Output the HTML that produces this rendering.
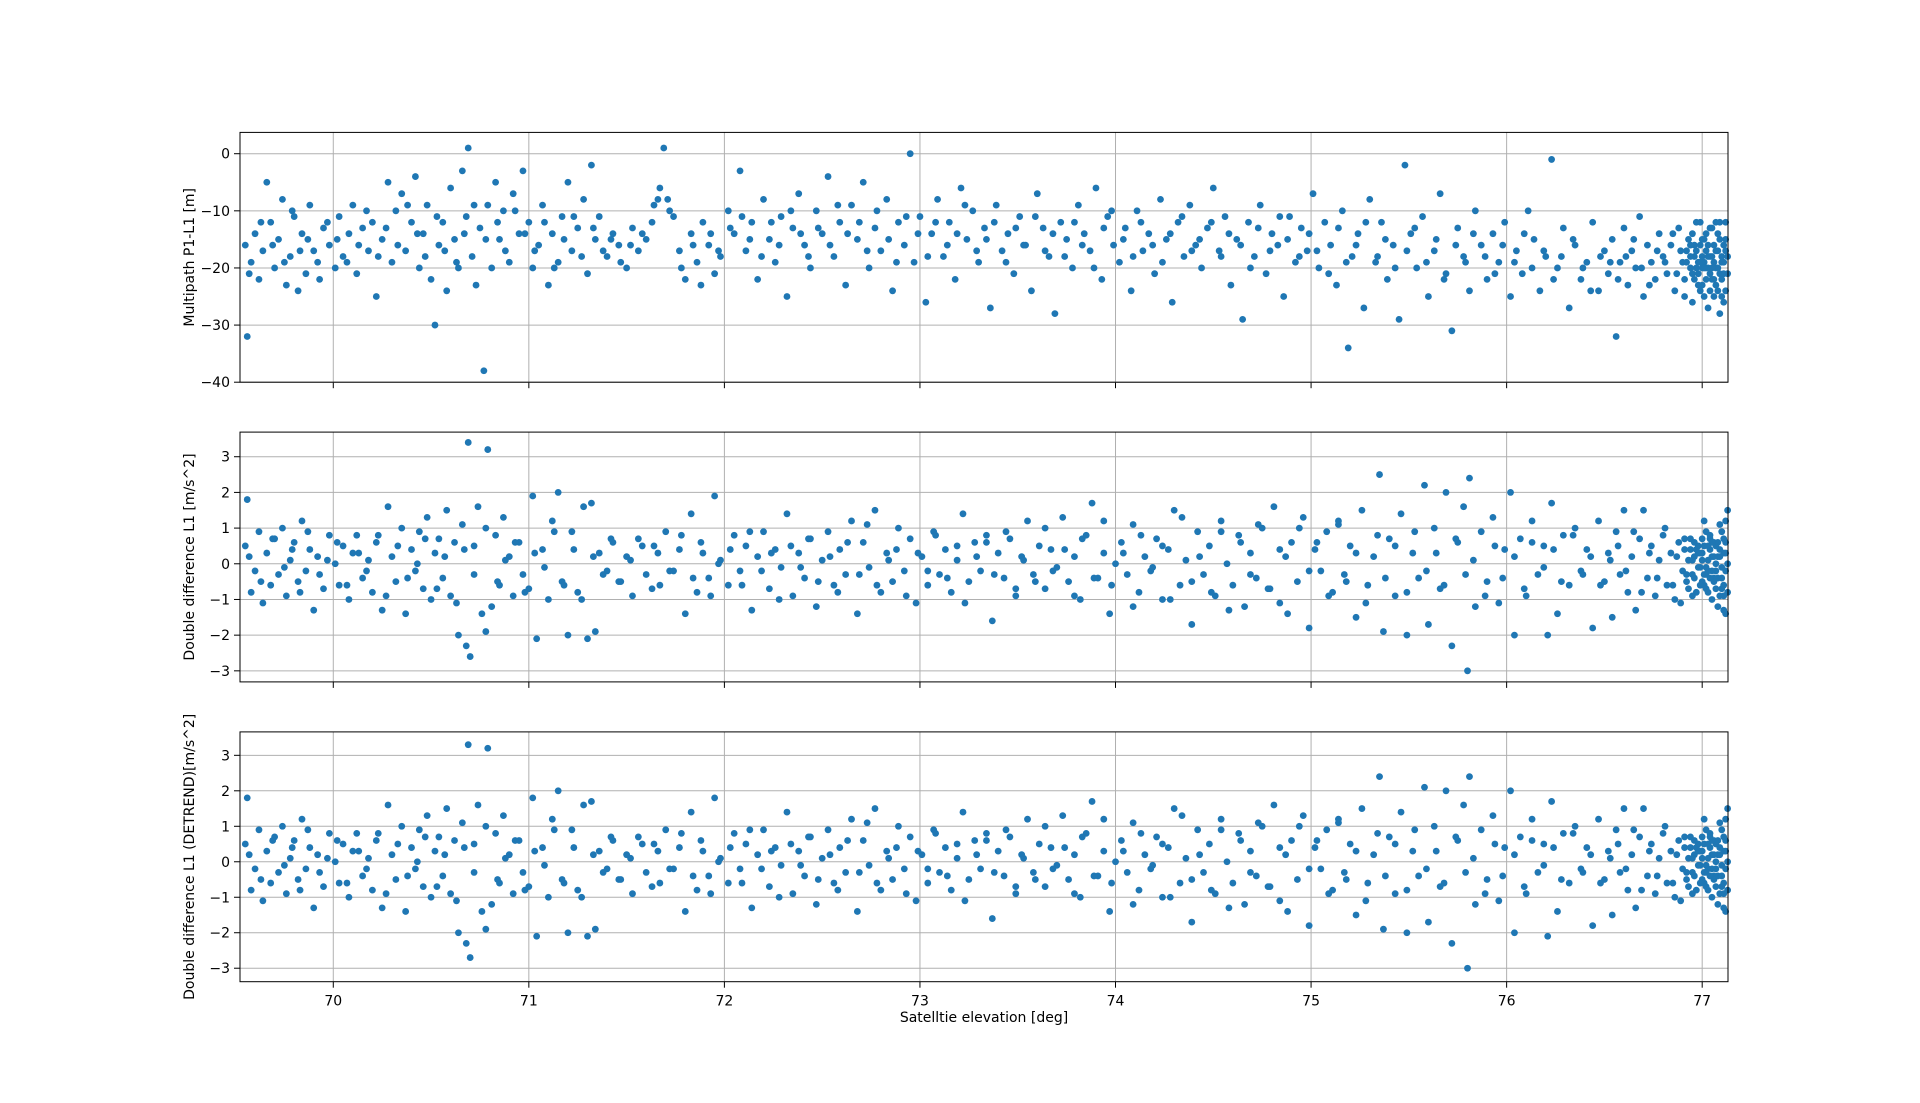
<!DOCTYPE html>
<html><head><meta charset="utf-8"><style>
html,body{margin:0;padding:0;background:#fff}
svg{display:block;font-family:"DejaVu Sans","Liberation Sans",sans-serif}
</style></head><body>
<svg id="fig" width="1920" height="1103" viewBox="0 0 1920 1103" xmlns="http://www.w3.org/2000/svg">
<rect width="1920" height="1103" fill="#fff"/>
</svg>
<script>
const xTicks = [70,71,72,73,74,75,76,77];
const y1Ticks = [0,-10,-20,-30,-40];
const y2Ticks = [-3,-2,-1,0,1,2,3];
const yLabels = ["Multipath P1-L1 [m]","Double difference L1 [m/s^2]","Double difference L1 (DETREND)[m/s^2]"];
const xLabel = "Satelltie elevation [deg]";
const multipath = [[69.55,-16],[69.56,-32],[69.58,-19],[69.60,-14],[69.62,-22],[69.64,-17],[69.66,-5],[69.68,-12],[69.70,-20],[69.72,-15],[69.74,-8],[69.76,-23],[69.78,-18],[69.80,-11],[69.82,-24],[69.84,-14],[69.86,-21],[69.88,-9],[69.90,-17],[69.92,-19],[69.95,-13],[69.98,-16],[70.01,-20],[70.03,-11],[70.05,-18],[70.08,-14],[70.10,-9],[70.12,-21],[70.15,-13],[70.18,-17],[70.20,-12],[70.22,-25],[70.25,-15],[70.28,-5],[70.30,-19],[70.32,-10],[70.35,-7],[70.37,-17],[70.40,-12],[70.42,-4],[70.44,-20],[70.46,-14],[70.48,-9],[70.50,-22],[70.52,-30],[70.54,-16],[70.56,-12],[70.58,-24],[70.60,-6],[70.62,-15],[70.64,-20],[70.66,-3],[70.68,-11],[70.69,1],[70.71,-18],[70.73,-23],[70.75,-13],[70.77,-38],[70.79,-9],[70.81,-20],[70.83,-5],[70.85,-15],[70.87,-10],[70.90,-19],[70.92,-7],[70.95,-14],[70.97,-3],[71.00,-12],[71.02,-20],[71.05,-16],[71.07,-9],[71.10,-23],[71.12,-14],[71.15,-19],[71.17,-11],[71.20,-5],[71.22,-17],[71.25,-13],[71.28,-8],[71.30,-21],[71.32,-2],[71.34,-15],[71.36,-11],[71.40,-18],[71.43,-14],[71.46,-16],[71.50,-20],[71.53,-13],[71.56,-17],[71.60,-15],[71.64,-9],[71.67,-6],[71.69,1],[71.71,-8],[71.74,-11],[71.77,-17],[71.80,-22],[71.83,-14],[71.86,-19],[71.89,-12],[71.92,-16],[71.95,-21],[71.98,-18],[72.02,-10],[72.05,-14],[72.08,-3],[72.11,-17],[72.14,-12],[72.17,-22],[72.20,-8],[72.23,-15],[72.26,-19],[72.29,-11],[72.32,-25],[72.35,-13],[72.38,-7],[72.41,-16],[72.44,-20],[72.47,-10],[72.50,-14],[72.53,-4],[72.56,-18],[72.59,-12],[72.62,-23],[72.65,-9],[72.68,-15],[72.71,-5],[72.74,-20],[72.77,-13],[72.80,-17],[72.83,-8],[72.86,-24],[72.89,-12],[72.92,-16],[72.95,0],[72.97,-19],[73.00,-11],[73.03,-26],[73.06,-14],[73.09,-8],[73.12,-18],[73.15,-12],[73.18,-22],[73.21,-6],[73.24,-15],[73.27,-10],[73.30,-19],[73.33,-13],[73.36,-27],[73.39,-9],[73.42,-17],[73.45,-14],[73.48,-21],[73.51,-11],[73.54,-16],[73.57,-24],[73.60,-7],[73.63,-13],[73.66,-18],[73.69,-28],[73.72,-12],[73.75,-15],[73.78,-20],[73.81,-9],[73.84,-14],[73.87,-17],[73.90,-6],[73.93,-22],[73.96,-11],[73.99,-16],[74.02,-19],[74.05,-13],[74.08,-24],[74.11,-10],[74.14,-17],[74.17,-14],[74.20,-21],[74.23,-8],[74.26,-15],[74.29,-26],[74.32,-12],[74.35,-18],[74.38,-9],[74.41,-16],[74.44,-20],[74.47,-13],[74.50,-6],[74.53,-17],[74.56,-11],[74.59,-23],[74.62,-15],[74.65,-29],[74.68,-12],[74.71,-18],[74.74,-9],[74.77,-21],[74.80,-14],[74.83,-16],[74.86,-25],[74.89,-11],[74.92,-19],[74.95,-13],[74.98,-17],[75.01,-7],[75.04,-20],[75.07,-12],[75.10,-16],[75.13,-23],[75.16,-10],[75.19,-34],[75.21,-18],[75.24,-14],[75.27,-27],[75.30,-8],[75.33,-19],[75.36,-12],[75.39,-22],[75.42,-16],[75.45,-29],[75.48,-2],[75.51,-14],[75.54,-20],[75.57,-11],[75.60,-25],[75.63,-17],[75.66,-7],[75.69,-21],[75.72,-31],[75.75,-13],[75.78,-18],[75.81,-24],[75.84,-10],[75.87,-16],[75.90,-22],[75.93,-14],[75.96,-19],[75.99,-12],[76.02,-25],[76.05,-17],[76.08,-21],[76.11,-10],[76.14,-15],[76.17,-24],[76.20,-18],[76.23,-1],[76.26,-20],[76.29,-13],[76.32,-27],[76.35,-16],[76.38,-22],[76.41,-19],[76.44,-12],[76.47,-24],[76.50,-17],[76.52,-21],[76.54,-15],[76.56,-32],[76.58,-19],[76.60,-13],[76.62,-23],[76.64,-17],[76.66,-20],[76.68,-11],[76.70,-25],[76.72,-16],[76.74,-19],[76.76,-22],[76.78,-14],[76.80,-18],[76.82,-21],[76.84,-16],[76.86,-24],[76.88,-13],[76.90,-19],[76.91,-22],[76.92,-17],[76.93,-15],[76.94,-20],[76.95,-26],[76.96,-18],[76.97,-12],[76.98,-21],[76.99,-16],[77.00,-23],[77.01,-19],[77.02,-14],[77.03,-27],[77.04,-18],[77.05,-22],[77.06,-16],[77.07,-20],[77.08,-24],[77.09,-12],[77.10,-19],[77.11,-26],[77.12,-17],[77.13,-21],[77.00,-18],[77.02,-20],[77.04,-13],[77.06,-25],[77.08,-17],[77.10,-22],[77.12,-15],[76.95,-21],[76.97,-17],[76.99,-24],[77.01,-15],[77.03,-20],[77.05,-18],[77.07,-12],[77.09,-28],[77.11,-19]];
const multipathExtra = [[69.57,-21],[69.63,-12],[69.69,-16],[69.75,-19],[69.79,-10],[69.83,-17],[69.87,-15],[69.93,-22],[69.97,-12],[70.02,-15],[70.07,-19],[70.13,-16],[70.17,-10],[70.23,-18],[70.27,-13],[70.33,-16],[70.38,-9],[70.43,-14],[70.47,-18],[70.53,-11],[70.57,-17],[70.63,-19],[70.67,-14],[70.72,-9],[70.78,-15],[70.84,-12],[70.88,-17],[70.93,-10],[70.98,-14],[71.03,-17],[71.08,-12],[71.13,-20],[71.18,-15],[71.23,-11],[71.27,-18],[71.33,-13],[71.38,-17],[71.42,-15],[71.47,-19],[71.52,-16],[71.58,-14],[71.63,-12],[71.66,-8],[71.72,-10],[71.78,-20],[71.84,-16],[71.88,-23],[71.93,-14],[71.97,-17],[72.03,-13],[72.09,-11],[72.13,-15],[72.19,-18],[72.24,-12],[72.28,-16],[72.34,-10],[72.39,-14],[72.43,-18],[72.48,-13],[72.54,-16],[72.58,-9],[72.63,-14],[72.69,-12],[72.73,-17],[72.78,-10],[72.84,-15],[72.88,-19],[72.93,-11],[72.99,-14],[73.04,-18],[73.08,-12],[73.14,-16],[73.19,-14],[73.23,-9],[73.29,-17],[73.34,-15],[73.38,-12],[73.44,-19],[73.49,-13],[73.53,-16],[73.59,-11],[73.64,-17],[73.68,-14],[73.74,-18],[73.79,-12],[73.83,-16],[73.89,-20],[73.94,-13],[73.98,-10],[74.04,-15],[74.09,-18],[74.13,-12],[74.19,-16],[74.24,-19],[74.28,-14],[74.34,-11],[74.39,-17],[74.43,-15],[74.49,-12],[74.54,-18],[74.58,-14],[74.64,-16],[74.69,-20],[74.73,-13],[74.79,-17],[74.84,-11],[74.88,-15],[74.94,-18],[74.99,-14],[75.03,-17],[75.09,-21],[75.14,-13],[75.18,-19],[75.23,-16],[75.28,-12],[75.34,-18],[75.38,-15],[75.43,-20],[75.49,-17],[75.53,-13],[75.59,-19],[75.64,-15],[75.68,-22],[75.74,-16],[75.79,-19],[75.83,-14],[75.89,-18],[75.94,-21],[75.98,-16],[76.04,-19],[76.09,-14],[76.13,-20],[76.19,-17],[76.24,-22],[76.28,-18],[76.34,-15],[76.39,-20],[76.43,-24],[76.48,-18],[76.53,-19],[76.57,-22],[76.61,-18],[76.65,-15],[76.69,-20],[76.73,-23],[76.77,-17],[76.81,-19],[76.85,-14],[76.87,-21],[76.89,-17],[76.91,-25],[76.92,-19],[76.94,-16],[76.95,-14],[76.96,-22],[76.98,-19],[76.99,-12],[77.00,-20],[77.01,-25],[77.02,-17],[77.03,-16],[77.04,-21],[77.05,-13],[77.06,-19],[77.07,-23],[77.08,-20],[77.09,-15],[77.10,-18],[77.11,-21],[77.12,-24],[77.13,-18],[77.12,-12],[77.11,-16],[77.10,-25],[77.09,-21],[77.08,-14],[77.07,-17],[77.06,-22],[77.05,-20],[77.04,-24],[77.03,-18],[77.02,-22],[77.01,-20],[77.00,-15],[76.99,-19],[76.98,-23],[76.97,-20],[76.96,-16],[76.94,-18]];
const dd = [[69.55,0.5],[69.56,1.8],[69.58,-0.8],[69.60,-0.2],[69.62,0.9],[69.64,-1.1],[69.66,0.3],[69.68,-0.6],[69.70,0.7],[69.72,-0.3],[69.74,1.0],[69.76,-0.9],[69.78,0.1],[69.80,0.6],[69.82,-0.5],[69.84,1.2],[69.86,-0.2],[69.88,0.4],[69.90,-1.3],[69.92,0.2],[69.95,-0.7],[69.98,0.8],[70.01,0.0],[70.03,-0.6],[70.05,0.5],[70.08,-1.0],[70.10,0.3],[70.12,0.8],[70.15,-0.4],[70.18,0.1],[70.20,-0.8],[70.22,0.6],[70.25,-1.3],[70.28,1.6],[70.30,0.2],[70.32,-0.5],[70.35,1.0],[70.37,-1.4],[70.40,0.4],[70.42,-0.2],[70.44,0.9],[70.46,-0.7],[70.48,1.3],[70.50,-1.0],[70.52,0.3],[70.54,0.7],[70.56,-0.4],[70.58,1.5],[70.60,-0.9],[70.62,0.6],[70.64,-2.0],[70.66,1.1],[70.68,-2.3],[70.69,3.4],[70.70,-2.6],[70.72,0.5],[70.74,1.6],[70.76,-1.4],[70.78,-1.9],[70.79,3.2],[70.81,-1.2],[70.83,0.8],[70.85,-0.6],[70.87,1.3],[70.90,0.2],[70.92,-0.9],[70.95,0.6],[70.97,-0.3],[71.00,-0.7],[71.02,1.9],[71.04,-2.1],[71.07,0.4],[71.10,-1.0],[71.12,1.2],[71.15,2.0],[71.17,-0.5],[71.20,-2.0],[71.22,0.9],[71.25,-0.8],[71.28,1.6],[71.30,-2.1],[71.32,1.7],[71.34,-1.9],[71.36,0.3],[71.40,-0.2],[71.43,0.6],[71.46,-0.5],[71.50,0.2],[71.53,-0.9],[71.56,0.7],[71.60,-0.3],[71.64,0.5],[71.67,-0.6],[71.70,0.9],[71.74,-0.2],[71.77,0.4],[71.80,-1.4],[71.83,1.4],[71.86,-0.8],[71.89,0.3],[71.92,-0.4],[71.95,1.9],[71.98,0.1],[72.02,-0.6],[72.05,0.8],[72.08,-0.2],[72.11,0.5],[72.14,-1.3],[72.17,0.2],[72.20,0.9],[72.23,-0.7],[72.26,0.4],[72.29,-0.1],[72.32,1.4],[72.35,-0.9],[72.38,0.3],[72.41,-0.4],[72.44,0.7],[72.47,-1.2],[72.50,0.1],[72.53,0.9],[72.56,-0.6],[72.59,0.4],[72.62,-0.3],[72.65,1.2],[72.68,-1.4],[72.71,0.6],[72.74,-0.1],[72.77,1.5],[72.80,-0.8],[72.83,0.3],[72.86,-0.5],[72.89,1.0],[72.92,-0.2],[72.95,0.7],[72.98,-1.1],[73.01,0.2],[73.04,-0.6],[73.07,0.9],[73.10,-0.3],[73.13,0.4],[73.16,-0.8],[73.19,0.1],[73.22,1.4],[73.25,-0.5],[73.28,0.6],[73.31,-0.2],[73.34,0.8],[73.37,-1.6],[73.40,0.3],[73.43,-0.4],[73.46,0.7],[73.49,-0.9],[73.52,0.2],[73.55,1.2],[73.58,-0.3],[73.61,0.5],[73.64,-0.7],[73.67,0.4],[73.70,-0.1],[73.73,1.3],[73.76,-0.5],[73.79,0.2],[73.82,-1.0],[73.85,0.8],[73.88,1.7],[73.91,-0.4],[73.94,0.3],[73.97,-1.4],[74.00,0.0],[74.03,0.6],[74.06,-0.3],[74.09,1.1],[74.12,-0.8],[74.15,0.2],[74.18,-0.2],[74.21,0.7],[74.24,-1.0],[74.27,0.4],[74.30,1.5],[74.33,-0.6],[74.36,0.1],[74.39,-1.7],[74.42,0.9],[74.45,-0.3],[74.48,0.5],[74.51,-0.9],[74.54,1.2],[74.57,0.0],[74.60,-0.6],[74.63,0.8],[74.66,-1.2],[74.69,0.3],[74.72,-0.4],[74.75,1.0],[74.78,-0.7],[74.81,1.6],[74.84,-1.1],[74.87,0.2],[74.90,0.6],[74.93,-0.5],[74.96,1.3],[74.99,-1.8],[75.02,0.4],[75.05,-0.2],[75.08,0.9],[75.11,-0.8],[75.14,1.1],[75.17,-0.3],[75.20,0.5],[75.23,-1.5],[75.26,1.5],[75.29,-0.6],[75.32,0.2],[75.35,2.5],[75.37,-1.9],[75.40,0.7],[75.43,-0.9],[75.46,1.4],[75.49,-2.0],[75.52,0.3],[75.55,-0.4],[75.58,2.2],[75.60,-1.7],[75.63,1.0],[75.66,-0.7],[75.69,2.0],[75.72,-2.3],[75.75,0.6],[75.78,1.6],[75.80,-3.0],[75.81,2.4],[75.84,-1.2],[75.87,0.9],[75.90,-0.5],[75.93,1.3],[75.96,-1.1],[75.99,0.4],[76.02,2.0],[76.04,-2.0],[76.07,0.7],[76.10,-0.9],[76.13,1.2],[76.16,-0.3],[76.19,0.5],[76.21,-2.0],[76.23,1.7],[76.26,-1.4],[76.29,0.8],[76.32,-0.6],[76.35,1.0],[76.38,-0.2],[76.41,0.4],[76.44,-1.8],[76.47,1.2],[76.50,-0.5],[76.52,0.3],[76.54,-1.5],[76.56,0.9],[76.58,-0.3],[76.60,1.5],[76.62,-0.8],[76.64,0.2],[76.66,-1.3],[76.68,0.7],[76.70,1.5],[76.72,-0.4],[76.74,0.5],[76.76,-0.9],[76.78,0.1],[76.80,0.8],[76.82,-0.6],[76.84,0.3],[76.86,-1.0],[76.88,0.6],[76.90,-0.2],[76.91,0.4],[76.92,-0.5],[76.93,0.1],[76.94,0.7],[76.95,-0.3],[76.96,0.2],[76.97,-0.8],[76.98,0.5],[76.99,-0.1],[77.00,0.3],[77.01,-0.6],[77.02,0.9],[77.03,-0.2],[77.04,0.4],[77.05,-1.0],[77.06,0.6],[77.07,0.0],[77.08,-0.4],[77.09,1.1],[77.10,-0.7],[77.11,0.3],[77.12,-1.4],[77.13,1.5],[77.00,0.1],[77.02,-0.3],[77.04,0.7],[77.06,-0.5],[77.08,0.2],[77.10,-0.1],[77.12,0.6],[76.96,-0.4],[76.98,0.3],[77.01,0.5],[77.03,-0.8],[77.05,0.2],[77.07,-0.2],[77.09,0.4],[77.11,-0.9],[77.13,0.0],[77.12,1.2],[77.11,-1.3]];
const ddExtra = [[69.57,0.2],[69.63,-0.5],[69.69,0.7],[69.75,-0.1],[69.79,0.4],[69.83,-0.8],[69.87,0.9],[69.93,-0.3],[69.97,0.1],[70.02,0.6],[70.07,-0.6],[70.13,0.3],[70.17,-0.2],[70.23,0.8],[70.27,-0.9],[70.33,0.5],[70.38,-0.4],[70.43,0.0],[70.47,0.7],[70.53,-0.7],[70.57,0.2],[70.63,-1.1],[70.67,0.4],[70.72,-0.3],[70.78,1.0],[70.84,-0.5],[70.88,0.1],[70.93,0.6],[70.98,-0.8],[71.03,0.3],[71.08,-0.1],[71.13,0.9],[71.18,-0.6],[71.23,0.4],[71.27,-1.0],[71.33,0.2],[71.38,-0.3],[71.42,0.7],[71.47,-0.5],[71.52,0.1],[71.58,0.5],[71.63,-0.7],[71.66,0.3],[71.72,-0.2],[71.78,0.8],[71.84,-0.4],[71.88,0.6],[71.93,-0.9],[71.97,0.0],[72.03,0.4],[72.09,-0.6],[72.13,0.9],[72.19,-0.2],[72.24,0.3],[72.28,-1.0],[72.34,0.5],[72.39,-0.1],[72.43,0.7],[72.48,-0.5],[72.54,0.2],[72.58,-0.8],[72.63,0.6],[72.69,-0.3],[72.73,1.1],[72.78,-0.6],[72.84,0.1],[72.88,0.4],[72.93,-0.9],[72.99,0.3],[73.04,-0.2],[73.08,0.8],[73.14,-0.4],[73.19,0.5],[73.23,-1.1],[73.29,0.2],[73.34,0.6],[73.38,-0.3],[73.44,0.9],[73.49,-0.7],[73.53,0.1],[73.59,-0.5],[73.64,1.0],[73.68,-0.2],[73.74,0.4],[73.79,-0.9],[73.83,0.7],[73.89,-0.4],[73.94,1.2],[73.98,-0.6],[74.04,0.3],[74.09,-1.2],[74.13,0.8],[74.19,-0.1],[74.24,0.5],[74.28,-1.0],[74.34,1.3],[74.39,-0.5],[74.43,0.2],[74.49,-0.8],[74.54,0.9],[74.58,-1.3],[74.64,0.6],[74.69,-0.3],[74.73,1.1],[74.79,-0.7],[74.84,0.4],[74.88,-1.4],[74.94,1.0],[74.99,-0.2],[75.03,0.6],[75.09,-0.9],[75.14,1.2],[75.18,-0.5],[75.23,0.3],[75.28,-1.1],[75.34,0.8],[75.38,-0.4],[75.43,0.5],[75.49,-0.8],[75.53,0.9],[75.59,-0.2],[75.64,0.3],[75.68,-0.6],[75.74,0.7],[75.79,-0.3],[75.83,0.1],[75.89,-0.9],[75.94,0.5],[75.98,-0.4],[76.04,0.2],[76.09,-0.7],[76.13,0.6],[76.19,-0.1],[76.24,0.4],[76.28,-0.5],[76.34,0.8],[76.39,-0.3],[76.43,0.2],[76.48,-0.6],[76.53,0.1],[76.57,0.5],[76.61,-0.2],[76.65,0.9],[76.69,-0.8],[76.73,0.3],[76.77,-0.4],[76.81,1.0],[76.85,-0.6],[76.87,0.2],[76.89,-1.1],[76.91,0.7],[76.92,-0.3],[76.94,0.4],[76.95,-0.9],[76.96,0.6],[76.98,-0.1],[76.99,0.3],[77.00,-0.5],[77.01,1.2],[77.02,-0.7],[77.03,0.1],[77.04,0.8],[77.05,-0.2],[77.06,-0.4],[77.07,0.5],[77.08,-1.2],[77.09,0.2],[77.10,0.9],[77.11,-0.6],[77.12,0.3],[77.13,-0.8],[77.12,-0.2],[77.11,0.7],[77.10,-0.4],[77.09,-0.9],[77.08,0.6],[77.07,-0.7],[77.06,0.2],[77.05,0.6],[77.04,-0.4],[77.03,0.5],[77.02,-0.1],[77.01,-0.3],[77.00,0.7],[76.99,-0.6],[76.97,0.4],[76.95,0.1],[76.93,-0.7]];
const ddDetrend = [[69.55,0.5],[69.56,1.8],[69.58,-0.8],[69.60,-0.2],[69.62,0.9],[69.64,-1.1],[69.66,0.3],[69.68,-0.6],[69.70,0.7],[69.72,-0.3],[69.74,1.0],[69.76,-0.9],[69.78,0.1],[69.80,0.6],[69.82,-0.5],[69.84,1.2],[69.86,-0.2],[69.88,0.4],[69.90,-1.3],[69.92,0.2],[69.95,-0.7],[69.98,0.8],[70.01,0.0],[70.03,-0.6],[70.05,0.5],[70.08,-1.0],[70.10,0.3],[70.12,0.8],[70.15,-0.4],[70.18,0.1],[70.20,-0.8],[70.22,0.6],[70.25,-1.3],[70.28,1.6],[70.30,0.2],[70.32,-0.5],[70.35,1.0],[70.37,-1.4],[70.40,0.4],[70.42,-0.2],[70.44,0.9],[70.46,-0.7],[70.48,1.3],[70.50,-1.0],[70.52,0.3],[70.54,0.7],[70.56,-0.4],[70.58,1.5],[70.60,-0.9],[70.62,0.6],[70.64,-2.0],[70.66,1.1],[70.68,-2.3],[70.69,3.3],[70.70,-2.7],[70.72,0.5],[70.74,1.6],[70.76,-1.4],[70.78,-1.9],[70.79,3.2],[70.81,-1.2],[70.83,0.8],[70.85,-0.6],[70.87,1.3],[70.90,0.2],[70.92,-0.9],[70.95,0.6],[70.97,-0.3],[71.00,-0.7],[71.02,1.8],[71.04,-2.1],[71.07,0.4],[71.10,-1.0],[71.12,1.2],[71.15,2.0],[71.17,-0.5],[71.20,-2.0],[71.22,0.9],[71.25,-0.8],[71.28,1.6],[71.30,-2.1],[71.32,1.7],[71.34,-1.9],[71.36,0.3],[71.40,-0.2],[71.43,0.6],[71.46,-0.5],[71.50,0.2],[71.53,-0.9],[71.56,0.7],[71.60,-0.3],[71.64,0.5],[71.67,-0.6],[71.70,0.9],[71.74,-0.2],[71.77,0.4],[71.80,-1.4],[71.83,1.4],[71.86,-0.8],[71.89,0.3],[71.92,-0.4],[71.95,1.8],[71.98,0.1],[72.02,-0.6],[72.05,0.8],[72.08,-0.2],[72.11,0.5],[72.14,-1.3],[72.17,0.2],[72.20,0.9],[72.23,-0.7],[72.26,0.4],[72.29,-0.1],[72.32,1.4],[72.35,-0.9],[72.38,0.3],[72.41,-0.4],[72.44,0.7],[72.47,-1.2],[72.50,0.1],[72.53,0.9],[72.56,-0.6],[72.59,0.4],[72.62,-0.3],[72.65,1.2],[72.68,-1.4],[72.71,0.6],[72.74,-0.1],[72.77,1.5],[72.80,-0.8],[72.83,0.3],[72.86,-0.5],[72.89,1.0],[72.92,-0.2],[72.95,0.7],[72.98,-1.1],[73.01,0.2],[73.04,-0.6],[73.07,0.9],[73.10,-0.3],[73.13,0.4],[73.16,-0.8],[73.19,0.1],[73.22,1.4],[73.25,-0.5],[73.28,0.6],[73.31,-0.2],[73.34,0.8],[73.37,-1.6],[73.40,0.3],[73.43,-0.4],[73.46,0.7],[73.49,-0.9],[73.52,0.2],[73.55,1.2],[73.58,-0.3],[73.61,0.5],[73.64,-0.7],[73.67,0.4],[73.70,-0.1],[73.73,1.3],[73.76,-0.5],[73.79,0.2],[73.82,-1.0],[73.85,0.8],[73.88,1.7],[73.91,-0.4],[73.94,0.3],[73.97,-1.4],[74.00,0.0],[74.03,0.6],[74.06,-0.3],[74.09,1.1],[74.12,-0.8],[74.15,0.2],[74.18,-0.2],[74.21,0.7],[74.24,-1.0],[74.27,0.4],[74.30,1.5],[74.33,-0.6],[74.36,0.1],[74.39,-1.7],[74.42,0.9],[74.45,-0.3],[74.48,0.5],[74.51,-0.9],[74.54,1.2],[74.57,0.0],[74.60,-0.6],[74.63,0.8],[74.66,-1.2],[74.69,0.3],[74.72,-0.4],[74.75,1.0],[74.78,-0.7],[74.81,1.6],[74.84,-1.1],[74.87,0.2],[74.90,0.6],[74.93,-0.5],[74.96,1.3],[74.99,-1.8],[75.02,0.4],[75.05,-0.2],[75.08,0.9],[75.11,-0.8],[75.14,1.1],[75.17,-0.3],[75.20,0.5],[75.23,-1.5],[75.26,1.5],[75.29,-0.6],[75.32,0.2],[75.35,2.4],[75.37,-1.9],[75.40,0.7],[75.43,-0.9],[75.46,1.4],[75.49,-2.0],[75.52,0.3],[75.55,-0.4],[75.58,2.1],[75.60,-1.7],[75.63,1.0],[75.66,-0.7],[75.69,2.0],[75.72,-2.3],[75.75,0.6],[75.78,1.6],[75.80,-3.0],[75.81,2.4],[75.84,-1.2],[75.87,0.9],[75.90,-0.5],[75.93,1.3],[75.96,-1.1],[75.99,0.4],[76.02,2.0],[76.04,-2.0],[76.07,0.7],[76.10,-0.9],[76.13,1.2],[76.16,-0.3],[76.19,0.5],[76.21,-2.1],[76.23,1.7],[76.26,-1.4],[76.29,0.8],[76.32,-0.6],[76.35,1.0],[76.38,-0.2],[76.41,0.4],[76.44,-1.8],[76.47,1.2],[76.50,-0.5],[76.52,0.3],[76.54,-1.5],[76.56,0.9],[76.58,-0.3],[76.60,1.5],[76.62,-0.8],[76.64,0.2],[76.66,-1.3],[76.68,0.7],[76.70,1.5],[76.72,-0.4],[76.74,0.5],[76.76,-0.9],[76.78,0.1],[76.80,0.8],[76.82,-0.6],[76.84,0.3],[76.86,-1.0],[76.88,0.6],[76.90,-0.2],[76.91,0.4],[76.92,-0.5],[76.93,0.1],[76.94,0.7],[76.95,-0.3],[76.96,0.2],[76.97,-0.8],[76.98,0.5],[76.99,-0.1],[77.00,0.3],[77.01,-0.6],[77.02,0.9],[77.03,-0.2],[77.04,0.4],[77.05,-1.0],[77.06,0.6],[77.07,0.0],[77.08,-0.4],[77.09,1.1],[77.10,-0.7],[77.11,0.3],[77.12,-1.4],[77.13,1.5],[77.00,0.1],[77.02,-0.3],[77.04,0.7],[77.06,-0.5],[77.08,0.2],[77.10,-0.1],[77.12,0.6],[76.96,-0.4],[76.98,0.3],[77.01,0.5],[77.03,-0.8],[77.05,0.2],[77.07,-0.2],[77.09,0.4],[77.11,-0.9],[77.13,0.0],[77.12,1.2],[77.11,-1.3]];
const ddDetrendExtra = [[69.57,0.2],[69.63,-0.5],[69.69,0.6],[69.75,-0.1],[69.79,0.4],[69.83,-0.8],[69.87,0.9],[69.93,-0.3],[69.97,0.1],[70.02,0.6],[70.07,-0.6],[70.13,0.3],[70.17,-0.2],[70.23,0.8],[70.27,-0.9],[70.33,0.5],[70.38,-0.4],[70.43,0.0],[70.47,0.7],[70.53,-0.7],[70.57,0.2],[70.63,-1.1],[70.67,0.4],[70.72,-0.3],[70.78,1.0],[70.84,-0.5],[70.88,0.1],[70.93,0.6],[70.98,-0.8],[71.03,0.3],[71.08,-0.1],[71.13,0.9],[71.18,-0.6],[71.23,0.4],[71.27,-1.0],[71.33,0.2],[71.38,-0.3],[71.42,0.7],[71.47,-0.5],[71.52,0.1],[71.58,0.5],[71.63,-0.7],[71.66,0.3],[71.72,-0.2],[71.78,0.8],[71.84,-0.4],[71.88,0.6],[71.93,-0.9],[71.97,0.0],[72.03,0.4],[72.09,-0.6],[72.13,0.9],[72.19,-0.2],[72.24,0.3],[72.28,-1.0],[72.34,0.5],[72.39,-0.1],[72.43,0.7],[72.48,-0.5],[72.54,0.2],[72.58,-0.8],[72.63,0.6],[72.69,-0.3],[72.73,1.1],[72.78,-0.6],[72.84,0.1],[72.88,0.4],[72.93,-0.9],[72.99,0.3],[73.04,-0.2],[73.08,0.8],[73.14,-0.4],[73.19,0.5],[73.23,-1.1],[73.29,0.2],[73.34,0.6],[73.38,-0.3],[73.44,0.9],[73.49,-0.7],[73.53,0.1],[73.59,-0.5],[73.64,1.0],[73.68,-0.2],[73.74,0.4],[73.79,-0.9],[73.83,0.7],[73.89,-0.4],[73.94,1.2],[73.98,-0.6],[74.04,0.3],[74.09,-1.2],[74.13,0.8],[74.19,-0.1],[74.24,0.5],[74.28,-1.0],[74.34,1.3],[74.39,-0.5],[74.43,0.2],[74.49,-0.8],[74.54,0.9],[74.58,-1.3],[74.64,0.6],[74.69,-0.3],[74.73,1.1],[74.79,-0.7],[74.84,0.4],[74.88,-1.4],[74.94,1.0],[74.99,-0.2],[75.03,0.6],[75.09,-0.9],[75.14,1.2],[75.18,-0.5],[75.23,0.3],[75.28,-1.1],[75.34,0.8],[75.38,-0.4],[75.43,0.5],[75.49,-0.8],[75.53,0.9],[75.59,-0.2],[75.64,0.3],[75.68,-0.6],[75.74,0.7],[75.79,-0.3],[75.83,0.1],[75.89,-0.9],[75.94,0.5],[75.98,-0.4],[76.04,0.2],[76.09,-0.7],[76.13,0.6],[76.19,-0.1],[76.24,0.4],[76.28,-0.5],[76.34,0.8],[76.39,-0.3],[76.43,0.2],[76.48,-0.6],[76.53,0.1],[76.57,0.5],[76.61,-0.2],[76.65,0.9],[76.69,-0.8],[76.73,0.3],[76.77,-0.4],[76.81,1.0],[76.85,-0.6],[76.87,0.2],[76.89,-1.1],[76.91,0.7],[76.92,-0.3],[76.94,0.4],[76.95,-0.9],[76.96,0.6],[76.98,-0.1],[76.99,0.3],[77.00,-0.5],[77.01,1.2],[77.02,-0.7],[77.03,0.1],[77.04,0.8],[77.05,-0.2],[77.06,-0.4],[77.07,0.5],[77.08,-1.2],[77.09,0.2],[77.10,0.9],[77.11,-0.6],[77.12,0.3],[77.13,-0.8],[77.12,-0.2],[77.11,0.7],[77.10,-0.4],[77.09,-0.9],[77.08,0.6],[77.07,-0.7],[77.06,0.2],[77.05,0.6],[77.04,-0.4],[77.03,0.5],[77.02,-0.1],[77.01,-0.3],[77.00,0.7],[76.99,-0.6],[76.97,0.4],[76.95,0.1],[76.93,-0.7]];

const NS = "http://www.w3.org/2000/svg";
const svg = document.getElementById('fig');
const L = 240, R = 1728;
const xMin = 69.523, xMax = 77.132;
const xs = v => L + (v - xMin) / (xMax - xMin) * (R - L);
function mk(tag, attrs, parent) {
  const e = document.createElementNS(NS, tag);
  for (const k in attrs) e.setAttribute(k, attrs[k]);
  (parent || svg).appendChild(e);
  return e;
}
const fmt = v => (v < 0 ? "\u2212" + Math.abs(v) : String(v));
const panels = [
  {top:132.4, bot:382.2, ymin:-40, ymax:3.73, ticks:y1Ticks, data:multipath.concat(multipathExtra), name:'multipath'},
  {top:432.1, bot:681.9, ymin:-3.31, ymax:3.69, ticks:y2Ticks, data:dd.concat(ddExtra), name:'double-difference'},
  {top:731.9, bot:981.7, ymin:-3.38, ymax:3.66, ticks:y2Ticks, data:ddDetrend.concat(ddDetrendExtra), name:'double-difference-detrend'}
];
panels.forEach((p, i) => {
  const ys = v => p.bot - (v - p.ymin) / (p.ymax - p.ymin) * (p.bot - p.top);
  const g = mk('g', {});
  
  
  xTicks.forEach(t => {
    const gl = mk('line', {x1:xs(t), x2:xs(t), y1:p.top, y2:p.bot, stroke:'#b0b0b0', 'stroke-width':1}, g);
    
    
    const tk = mk('line', {x1:xs(t), x2:xs(t), y1:p.bot, y2:p.bot + 6, stroke:'#000', 'stroke-width':1}, g);
    
    
    if (i === 2) {
      const tl = mk('text', {x:xs(t), y:p.bot + 24, 'text-anchor':'middle', 'font-size':14, fill:'#000'}, g);
      tl.textContent = fmt(t);
      
      
    }
  });
  p.ticks.forEach(t => {
    const gl = mk('line', {x1:L, x2:R, y1:ys(t), y2:ys(t), stroke:'#b0b0b0', 'stroke-width':1}, g);
    
    
    const tk = mk('line', {x1:L - 6, x2:L, y1:ys(t), y2:ys(t), stroke:'#000', 'stroke-width':1}, g);
    
    
    const tl = mk('text', {x:L - 10, y:ys(t) + 5, 'text-anchor':'end', 'font-size':14, fill:'#000'}, g);
    tl.textContent = fmt(t);
    
    
  });
  p.data.forEach(d => {
    const c = mk('circle', {cx:xs(d[0]), cy:ys(d[1]), r:3.4, fill:'#1f77b4'}, g);
    
    
  });
  const fr = mk('rect', {x:L, y:p.top, width:R - L, height:p.bot - p.top, fill:'none', stroke:'#000', 'stroke-width':1}, g);
  
  
  const cy = (p.top + p.bot) / 2;
  const yl = mk('text', {x:0, y:0, transform:`translate(194,${cy}) rotate(-90)`, 'text-anchor':'middle', 'font-size':14, fill:'#000'}, g);
  yl.textContent = yLabels[i];
  
  
});
const xl = mk('text', {x:(L + R) / 2, y:1022, 'text-anchor':'middle', 'font-size':14, fill:'#000'});
xl.textContent = xLabel;


</script>
</body></html>
